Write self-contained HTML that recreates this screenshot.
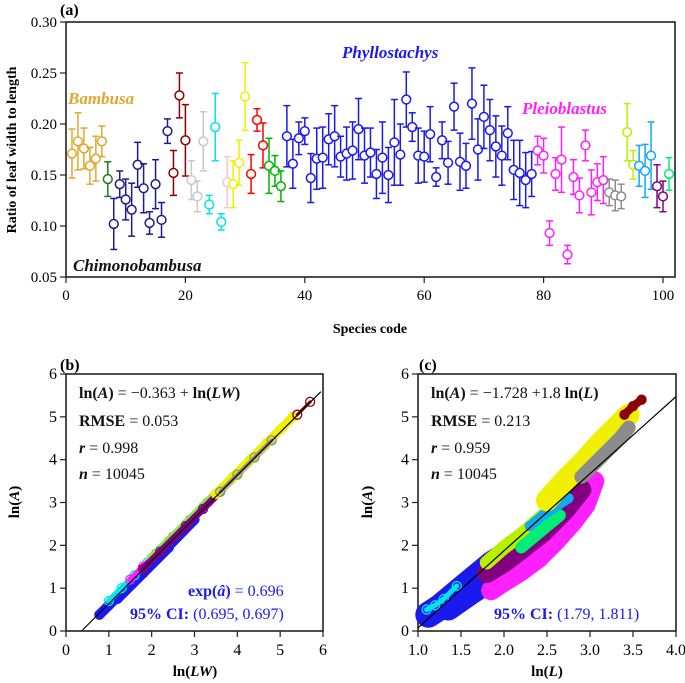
<!DOCTYPE html>
<html><head><meta charset="utf-8"><style>
html,body{margin:0;padding:0;background:#fff;}
svg{display:block;font-family:"Liberation Serif",serif;}
</style></head><body>
<svg id="chart" width="685" height="683" viewBox="0 0 685 683" xmlns="http://www.w3.org/2000/svg">
<text x="60" y="15" font-size="16" font-weight="bold">(a)</text>
<text x="60" y="370" font-size="16" font-weight="bold">(b)</text>
<text x="419" y="370" font-size="16" font-weight="bold">(c)</text>
<text transform="translate(16,150) rotate(-90)" text-anchor="middle" font-size="14" font-weight="bold">Ratio of leaf width to length</text>
<text x="370" y="333" text-anchor="middle" font-size="14" font-weight="bold">Species code</text>
<text transform="translate(19,502) rotate(-90)" text-anchor="middle" font-size="15" font-weight="bold">ln(<tspan font-style="italic">A</tspan>)</text>
<text x="195" y="676" text-anchor="middle" font-size="15" font-weight="bold">ln(<tspan font-style="italic">LW</tspan>)</text>
<text transform="translate(372,502) rotate(-90)" text-anchor="middle" font-size="15" font-weight="bold">ln(<tspan font-style="italic">A</tspan>)</text>
<text x="547" y="676" text-anchor="middle" font-size="15" font-weight="bold">ln(<tspan font-style="italic">L</tspan>)</text>
<g id="pa"></g><g id="pb"></g><g id="pc"></g>
</svg>
<script>
// ---------- Panel (a) data ----------
const species = [];
for (let i = 1; i <= 101; i++) species.push(i);
const means = [0.171,0.183,0.176,0.159,0.166,0.183,0.146,0.102,0.141,0.126,0.116,0.160,0.137,0.103,0.141,0.106,0.193,0.152,0.228,0.184,0.145,0.129,0.183,0.121,0.197,0.104,0.143,0.141,0.162,0.227,0.151,0.204,0.179,0.159,0.154,0.139,0.188,0.161,0.186,0.193,0.147,0.166,0.167,0.185,0.188,0.168,0.171,0.174,0.195,0.169,0.172,0.151,0.167,0.150,0.182,0.170,0.224,0.197,0.169,0.168,0.190,0.148,0.184,0.162,0.217,0.163,0.159,0.220,0.175,0.207,0.194,0.178,0.169,0.191,0.155,0.152,0.145,0.151,0.174,0.169,0.093,0.151,0.165,0.072,0.148,0.130,0.179,0.133,0.143,0.145,0.133,0.130,0.129,0.192,0.160,0.159,0.154,0.169,0.139,0.129,0.151];
const errs = [0.024,0.028,0.020,0.018,0.022,0.015,0.017,0.025,0.013,0.020,0.026,0.022,0.024,0.011,0.024,0.017,0.012,0.022,0.022,0.035,0.019,0.015,0.029,0.009,0.033,0.008,0.025,0.023,0.022,0.033,0.019,0.011,0.022,0.027,0.015,0.015,0.030,0.024,0.016,0.013,0.024,0.030,0.030,0.025,0.030,0.020,0.026,0.028,0.030,0.027,0.024,0.024,0.035,0.027,0.042,0.030,0.027,0.014,0.027,0.025,0.027,0.009,0.018,0.021,0.023,0.028,0.022,0.035,0.030,0.031,0.030,0.030,0.029,0.026,0.029,0.032,0.027,0.022,0.014,0.017,0.012,0.016,0.032,0.009,0.017,0.017,0.015,0.022,0.018,0.023,0.013,0.015,0.012,0.028,0.014,0.020,0.026,0.033,0.021,0.015,0.016];
const groupEnds = [6,7,17,20,23,26,27,30,33,36,78,90,93,95,98,100,101];
const groupColors = ["#e0a830","#1f7a1f","#1c1c90","#8b0000","#c8c8c8","#00e5ee","#f2c8c8","#f0f000","#ff0000","#00b400","#1a1aee","#ff20ff","#8c8c8c","#b8f000","#10aaf0","#800080","#00ee77"];
const yTicksA = [0.05,0.10,0.15,0.20,0.25,0.30];
const xTicksA = [0,20,40,60,80,100];

const NS = "http://www.w3.org/2000/svg";
function mk(parent, tag, attrs, text){const e=document.createElementNS(NS,tag);for(const k in attrs)e.setAttribute(k,attrs[k]);if(text!==undefined)e.textContent=text;parent.appendChild(e);return e;}

const ax = v => 66 + (v - 0) * (663 - 66) / 100;
const ay = v => 277 - (v - 0.05) * (277 - 22) / 0.25;
const pa = document.getElementById('pa');
let fr = mk(pa,'rect',{x:66,y:22,width:609,height:255,fill:'none',stroke:'#222','stroke-width':1.6});


yTicksA.forEach(t=>{
  const l=mk(pa,'line',{x1:60,x2:66,y1:ay(t),y2:ay(t),stroke:'#222','stroke-width':1.2});
  
  
  const tx=mk(pa,'text',{x:57,y:ay(t)+5,'text-anchor':'end','font-size':15},t.toFixed(2));
  
  
});
xTicksA.forEach(t=>{
  const l=mk(pa,'line',{x1:ax(t),x2:ax(t),y1:277,y2:283,stroke:'#222','stroke-width':1.2});
  
  
  const tx=mk(pa,'text',{x:ax(t),y:300,'text-anchor':'middle','font-size':15},String(t));
  
  
});
species.forEach((s,i)=>{
  let g=0; while(s>groupEnds[g]) g++;
  const c=groupColors[g];
  const x=ax(s), m=means[i], e=errs[i];
  const grp=mk(pa,'g',{stroke:c,'stroke-width':1.5,fill:'none'});
  
  
  mk(grp,'line',{x1:x,x2:x,y1:ay(m+e),y2:ay(m-e)});
  mk(grp,'line',{x1:x-3.5,x2:x+3.5,y1:ay(m+e),y2:ay(m+e)});
  mk(grp,'line',{x1:x-3.5,x2:x+3.5,y1:ay(m-e),y2:ay(m-e)});
  mk(grp,'circle',{cx:x,cy:ay(m),r:4.4,fill:'#fff'});
});
[["Bambusa",68,104,"#e0a830","genus-label-bambusa"],["Phyllostachys",342,58,"#1a1aee","genus-label-phyllostachys"],["Pleioblastus",522,114,"#ff20ff","genus-label-pleioblastus"],["Chimonobambusa",73,271,"#111","genus-label-chimonobambusa"]].forEach(d=>{
  const t=mk(pa,'text',{x:d[1],y:d[2],fill:d[3],'font-size':17,'font-weight':'bold','font-style':'italic'},d[0]);
  
  
});

// ---------- Panel (b)/(c) data: cluster centre points (x, y) per colour group ----------
const bBlueX=[0.78,1.0,1.3,1.6,1.9,2.2,2.5,2.8,3.0,1.2,1.8,2.4];
const bBlueY=[0.38,0.6,0.9,1.2,1.5,1.8,2.1,2.4,2.6,0.75,1.35,1.95];
const bCyanX=[1.0,1.3,1.6,1.9,2.2];
const bCyanY=[0.7,1.0,1.3,1.6,1.9];
const bMagX=[1.5,1.8,2.1,2.5,2.9,3.3];
const bMagY=[1.2,1.5,1.8,2.2,2.6,3.0];
const bGreenX=[2.0,2.4,2.8,3.2,3.5];
const bGreenY=[1.7,2.1,2.5,2.9,3.2];
const bPurX=[1.8,2.2,2.8,3.2,3.6];
const bPurY=[1.45,1.85,2.45,2.85,3.25];
const bGrayX=[3.6,4.0,4.4,4.8];
const bGrayY=[3.25,3.65,4.05,4.45];
const bYelX=[3.5,3.9,4.3,4.7,5.0,5.3];
const bYelY=[3.2,3.6,4.0,4.4,4.7,5.0];
const bRedX=[5.4,5.7,4.2];
const bRedY=[5.05,5.35,3.82];

const cBlueX=[1.12,1.25,1.4,1.55,1.7,1.85,2.0,2.2,2.4,2.6,2.8,1.35,1.6,1.9,2.3,2.7];
const cBlueY=[0.38,0.55,0.8,1.05,1.3,1.55,1.75,2.05,2.35,2.65,2.95,0.55,0.9,1.3,1.85,2.5];
const cCyanX=[1.1,1.2,1.3,1.45];
const cCyanY=[0.5,0.6,0.75,1.05];
const cMagX=[1.85,2.0,2.2,2.4,2.6,2.8,2.95,3.05];
const cMagY=[0.95,1.15,1.4,1.7,2.1,2.55,2.95,3.5];
const cPurX=[1.8,2.0,2.2,2.45,2.7,2.9];
const cPurY=[1.35,1.6,1.9,2.3,2.8,3.3];
const cLimeX=[1.8,2.0,2.2,2.4,2.6];
const cLimeY=[1.6,1.95,2.25,2.6,2.95];
const cSprX=[2.2,2.35,2.5,2.65];
const cSprY=[1.95,2.2,2.45,2.7];
const cSkyX=[2.3,2.45,2.6,2.75];
const cSkyY=[2.45,2.7,2.9,3.1];
const cYelX=[2.5,2.7,2.9,3.1,3.3,3.45];
const cYelY=[3.05,3.5,3.9,4.35,4.75,5.05];
const cGrayX=[2.9,3.05,3.2,3.35,3.45];
const cGrayY=[3.6,3.9,4.2,4.5,4.75];
const cRedX=[3.4,3.5,3.6,2.6];
const cRedY=[5.05,5.25,5.4,3.4];

const ticksB=[0,1,2,3,4,5,6];
const ticksCx=[1.0,1.5,2.0,2.5,3.0,3.5,4.0];
const lineB=[-0.363,1];
const lineC=[-1.728,1.8];

function panel(gid, x0, x1, px0, px1, xt, xfix, lab){
  const g=document.getElementById(gid);
  const sx=v=>px0+(v-x0)*(px1-px0)/(x1-x0);
  const sy=v=>631-v*(631-374)/6;
  const f=mk(g,'rect',{x:px0,y:374,width:px1-px0,height:257,fill:'none',stroke:'#222','stroke-width':1.6});
  
  
  ticksB.forEach(t=>{
    const l=mk(g,'line',{x1:px0-6,x2:px0,y1:sy(t),y2:sy(t),stroke:'#222','stroke-width':1.2});
    
    
    const tx=mk(g,'text',{x:px0-9,y:sy(t)+5,'text-anchor':'end','font-size':16},String(t));
    
    
  });
  xt.forEach(t=>{
    const l=mk(g,'line',{x1:sx(t),x2:sx(t),y1:631,y2:637,stroke:'#222','stroke-width':1.2});
    
    
    const tx=mk(g,'text',{x:sx(t),y:655,'text-anchor':'middle','font-size':16},t.toFixed(xfix));
    
    
  });
  return {g,sx,sy};
}
function cluster(P, xs, ys, color, name, band){
  const grp=mk(P.g,'g',{});
  
  
  const pts=xs.map((x,i)=>P.sx(x)+','+P.sy(ys[i])).join(' ');
  mk(grp,'polyline',{points:pts,fill:'none',stroke:color,'stroke-width':band,'stroke-linecap':'round','stroke-linejoin':'round'});
  xs.forEach((x,i)=>{
    const c=mk(grp,'circle',{cx:P.sx(x),cy:P.sy(ys[i]),r:4.5,fill:'none',stroke:color,'stroke-width':1.3});
    
    
  });
}
function fitLine(P, coef, xa, xb, lab){
  const y0=v=>coef[0]+coef[1]*v;
  const l=mk(P.g,'line',{x1:P.sx(xa),y1:P.sy(y0(xa)),x2:P.sx(xb),y2:P.sy(y0(xb)),stroke:'#000','stroke-width':1.2});
  
  
}
const B=panel('pb',0,6,66,323,ticksB,0,'b');
cluster(B,bBlueX,bBlueY,'#1a1aee','cluster-blue-b',10);
cluster(B,bCyanX,bCyanY,'#00e5ee','cluster-cyan-b',6);
cluster(B,bMagX,bMagY,'#ff20ff','cluster-magenta-b',6);
cluster(B,bGreenX,bGreenY,'#80f040','cluster-green-b',9);
cluster(B,bPurX,bPurY,'#800080','cluster-purple-b',7);
cluster(B,bGrayX,bGrayY,'#8c8c8c','cluster-gray-b',7);
cluster(B,bYelX,bYelY,'#f0f000','cluster-yellow-b',9);
cluster(B,bGrayX,bGrayY,'#8c8c8c','cluster-gray2-b',4);
cluster(B,bRedX.slice(0,2),bRedY.slice(0,2),'#8b0000','cluster-darkred-b',3);
fitLine(B,lineB,0.363,5.95,'b');

const C=panel('pc',1,4,418,676,ticksCx,1,'c');
cluster(C,cBlueX,cBlueY,'#1a1aee','cluster-blue-c',26);
cluster(C,cCyanX,cCyanY,'#00e5ee','cluster-cyan-c',5);
cluster(C,cMagX,cMagY,'#ff20ff','cluster-magenta-c',20);
cluster(C,cPurX,cPurY,'#800080','cluster-purple-c',20);
cluster(C,cLimeX,cLimeY,'#b8f000','cluster-lime-c',14);
cluster(C,cSprX,cSprY,'#00ee77','cluster-springgreen-c',12);
cluster(C,cSkyX,cSkyY,'#10aaf0','cluster-skyblue-c',10);
cluster(C,cYelX,cYelY,'#f0f000','cluster-yellow-c',22);
cluster(C,cGrayX,cGrayY,'#8c8c8c','cluster-gray-c',14);
cluster(C,cRedX.slice(0,3),cRedY.slice(0,3),'#8b0000','cluster-darkred-c',8);
fitLine(C,lineC,1.0,4.0,'c');

// annotations
function ann(x,y,html,name,fill,size){
  const t=mk(document.getElementById('chart'),'text',{x:x,y:y,'font-size':size||16,fill:fill||'#111'});
  t.innerHTML=html;
  
  
}
ann(79,398,'<tspan font-weight="bold">ln(<tspan font-style="italic">A</tspan>)</tspan> = −0.363 + <tspan font-weight="bold">ln(<tspan font-style="italic">LW</tspan>)</tspan>','equation-b');
ann(79,426,'<tspan font-weight="bold">RMSE</tspan> = 0.053','rmse-b');
ann(79,453,'<tspan font-weight="bold" font-style="italic">r</tspan> = 0.998','r-b');
ann(79,479,'<tspan font-weight="bold" font-style="italic">n</tspan> = 10045','n-b');
ann(188,596,'<tspan font-weight="bold">exp(<tspan font-style="italic">â</tspan>)</tspan> = 0.696','exp-a-b','#1a1aee');
ann(130,619,'<tspan font-weight="bold">95% CI:</tspan> (0.695, 0.697)','ci-b','#1a1aee');
ann(431,398,'<tspan font-weight="bold">ln(<tspan font-style="italic">A</tspan>)</tspan> = −1.728 +1.8 <tspan font-weight="bold">ln(<tspan font-style="italic">L</tspan>)</tspan>','equation-c');
ann(431,426,'<tspan font-weight="bold">RMSE</tspan> = 0.213','rmse-c');
ann(431,453,'<tspan font-weight="bold" font-style="italic">r</tspan> = 0.959','r-c');
ann(431,479,'<tspan font-weight="bold" font-style="italic">n</tspan> = 10045','n-c');
ann(494,619,'<tspan font-weight="bold">95% CI:</tspan> (1.79, 1.811)','ci-c','#1a1aee');
</script>
</body></html>
